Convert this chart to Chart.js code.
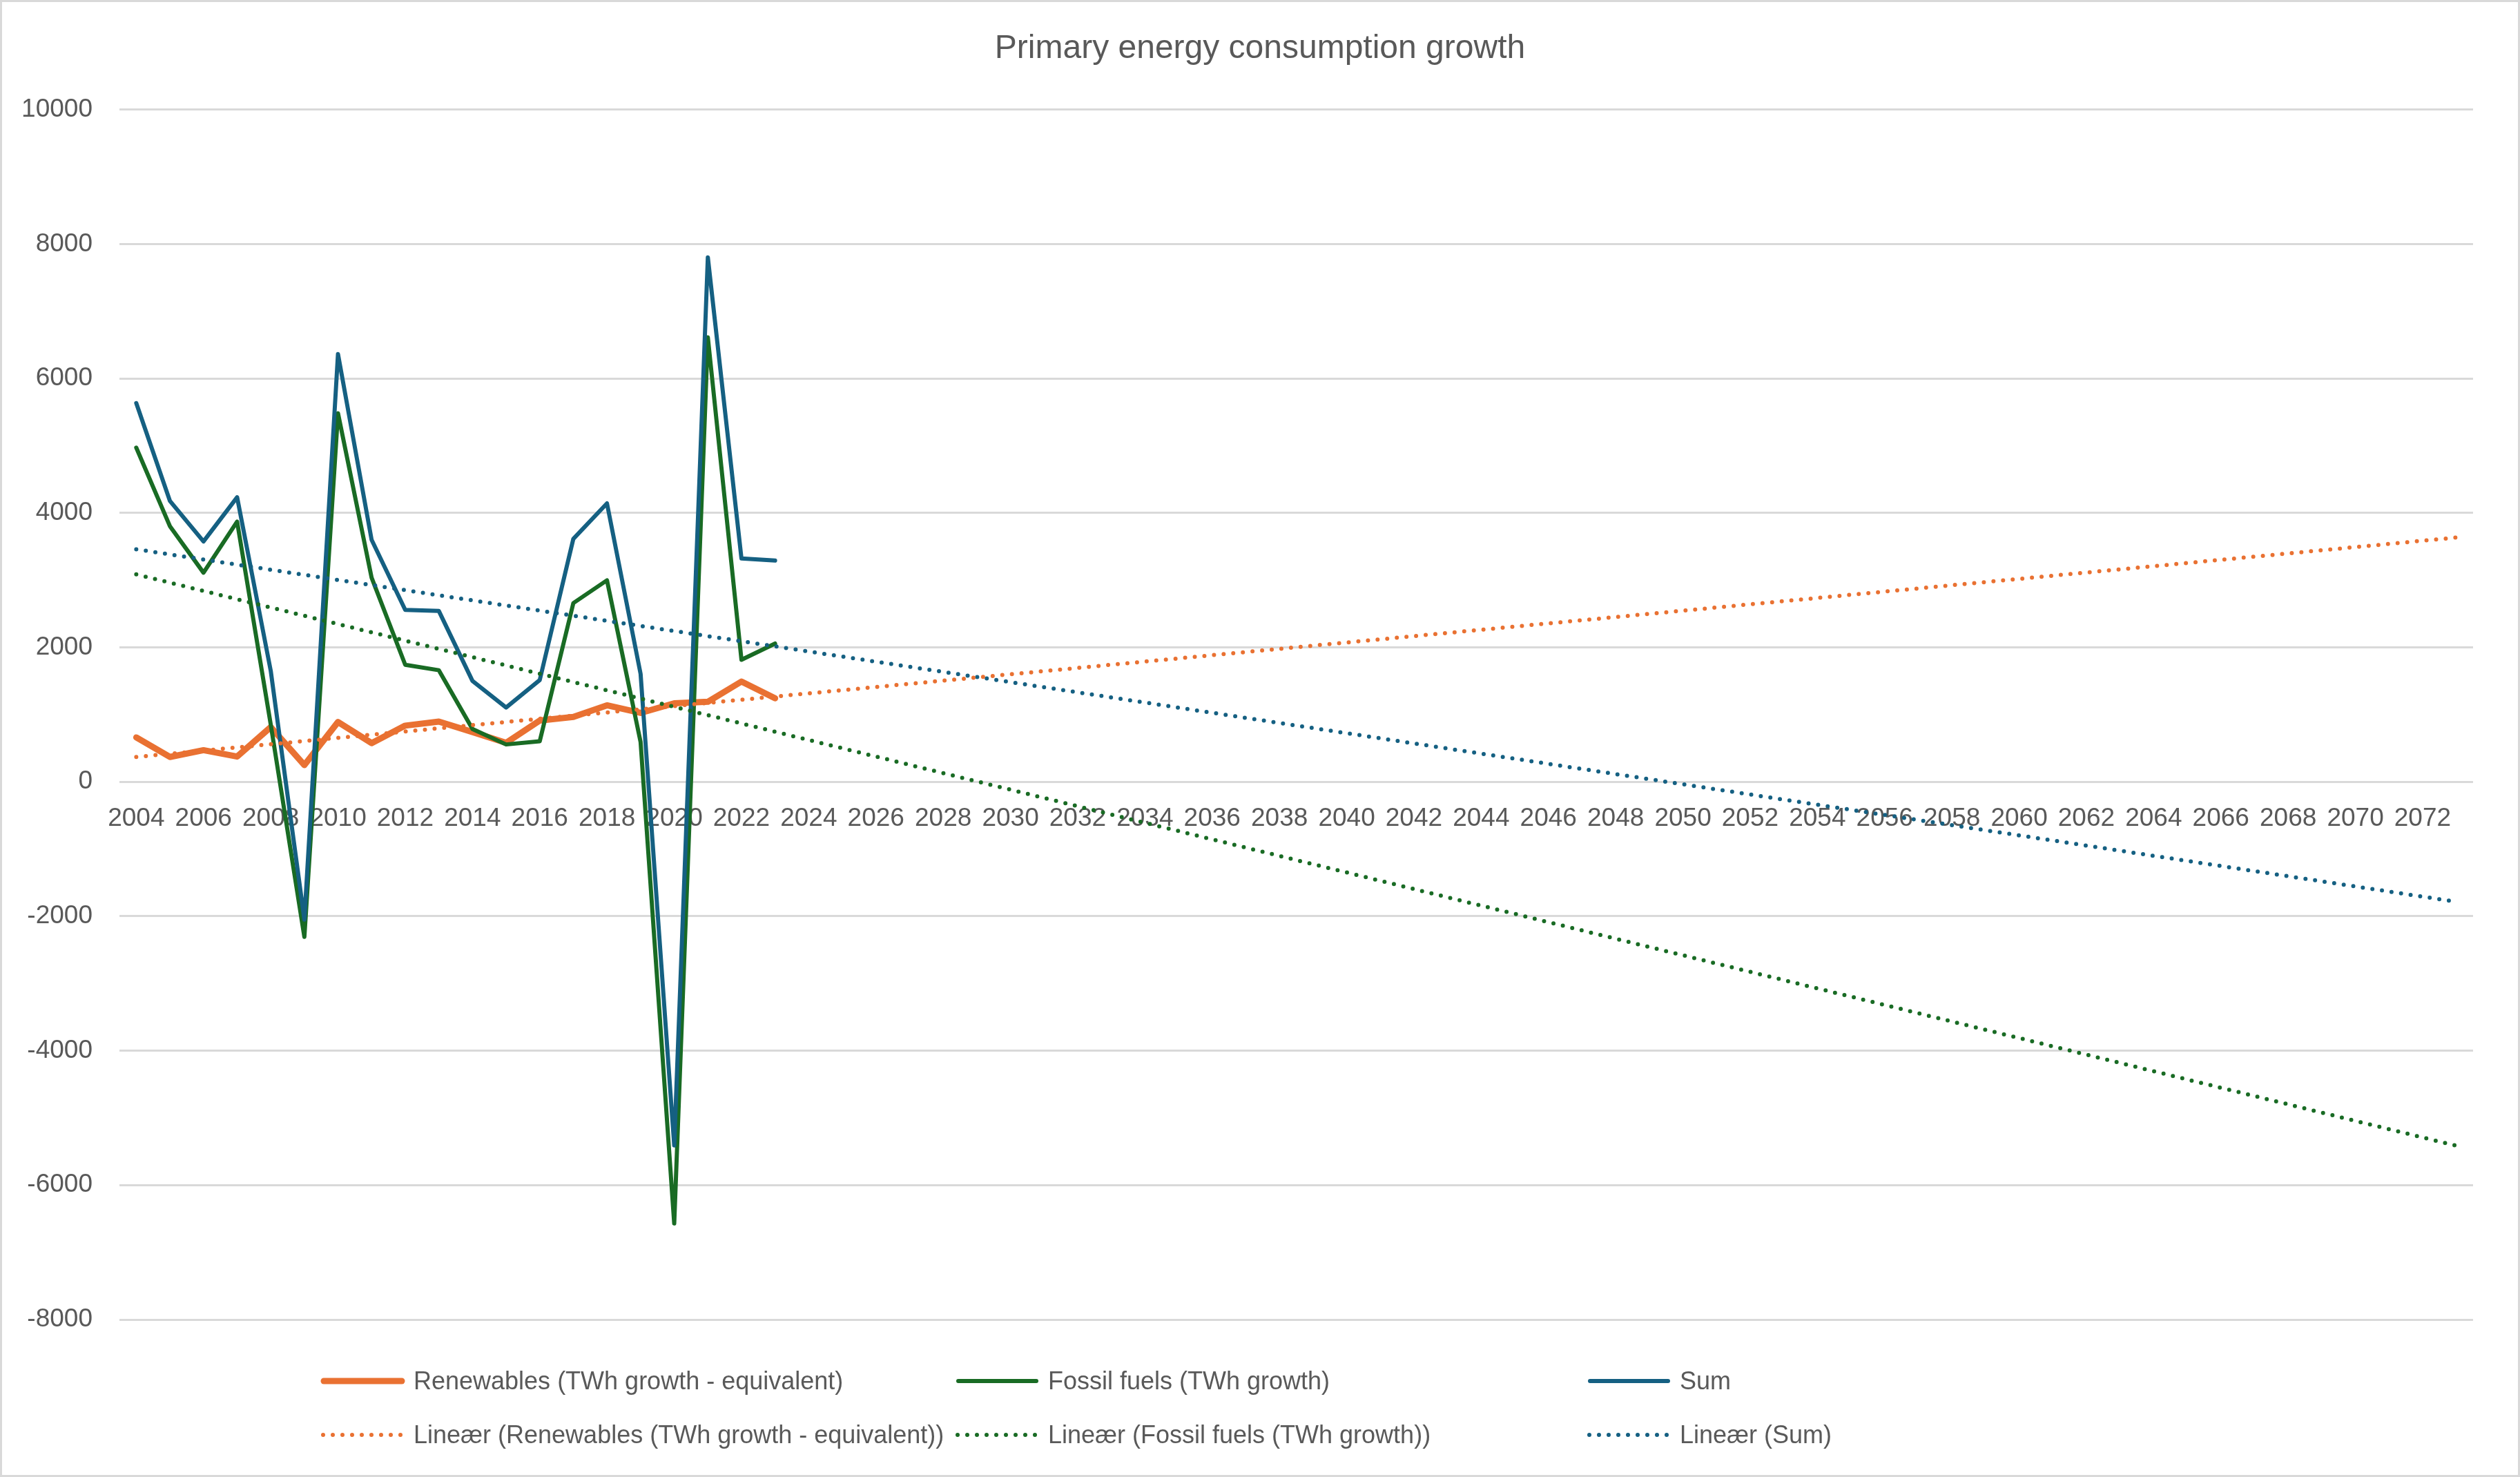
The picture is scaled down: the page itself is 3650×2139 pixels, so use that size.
<!DOCTYPE html>
<html>
<head>
<meta charset="utf-8">
<title>Primary energy consumption growth</title>
<script src="https://cdn.jsdelivr.net/npm/chart.js@4.4.1/dist/chart.umd.min.js"></script>
<style>
    html, body { margin: 0; padding: 0; background: #fff; }
    #contenedor { position: relative; width: 3650px; height: 2139px; overflow: hidden; }
    #grafico { position: absolute; left: 0; top: 0; }
    #marco { position: absolute; left: 0; top: 0; width: 3650px; height: 2139px; box-sizing: border-box; border: 3px solid #d9d9d9; pointer-events: none; }
    .item-leyenda { position: absolute; height: 44px; display: flex; align-items: center; font-family: "Liberation Sans", Arial, sans-serif; font-size: 36px; color: #595959; white-space: nowrap; }
    .item-leyenda svg { margin-right: 12px; }
</style>
</head>
<body>
<div id="contenedor">
    <canvas id="grafico" width="3650" height="2139"></canvas>
    <div id="leyenda"></div>
    <div id="marco"></div>
</div>
<script>
// Categorias del eje X (datos 2004-2023, el resto es la prolongacion de las tendencias)
const anios = [
    '2004', '2005', '2006', '2007', '2008', '2009', '2010', '2011', '2012', '2013',
    '2014', '2015', '2016', '2017', '2018', '2019', '2020', '2021', '2022', '2023',
    '2024', '2025', '2026', '2027', '2028', '2029', '2030', '2031', '2032', '2033',
    '2034', '2035', '2036', '2037', '2038', '2039', '2040', '2041', '2042', '2043',
    '2044', '2045', '2046', '2047', '2048', '2049', '2050', '2051', '2052', '2053',
    '2054', '2055', '2056', '2057', '2058', '2059', '2060', '2061', '2062', '2063',
    '2064', '2065', '2066', '2067', '2068', '2069', '2070', '2071', '2072', '2073'
];

// Series (TWh)
const renovables = [660, 369, 470, 375, 813, 248, 889, 575, 835, 895, 740, 580, 911, 964, 1137, 1024, 1167, 1190, 1491, 1242];
const fosiles = [4970, 3803, 3110, 3870, 851, -2307, 5482, 3035, 1740, 1659, 785, 555, 602, 2658, 2997, 590, -6570, 6611, 1815, 2056];
const suma = [5632, 4179, 3575, 4232, 1650, -2050, 6363, 3599, 2557, 2540, 1500, 1105, 1513, 3614, 4141, 1604, -5410, 7801, 3321, 3290];

// Lineas de tendencia: valor inicial (2004) y final (2073)
const tendenciaAnios = ['2004', '2073'];
const tendenciaRenovables = [369, 3633];
const tendenciaFosiles = [3085, -5414];
const tendenciaSuma = [3458, -1785];

// Eje Y
const ejeYMin = -8000;
const ejeYMax = 10000;
const ejeYPaso = 2000;

const colorNaranja = '#E97132';
const colorVerde = '#196B24';
const colorAzul = '#156082';
const colorTexto = '#595959';
const fuente = '"Liberation Sans", Arial, sans-serif';

function puntosTendencia(valores) {
    return tendenciaAnios.map((a, i) => ({ x: a, y: valores[i] }));
}

const datasets = [
    {
        label: 'Renewables (TWh growth - equivalent)',
        data: renovables,
        borderColor: colorNaranja,
        borderWidth: 9,
        order: 3
    },
    {
        label: 'Fossil fuels (TWh growth)',
        data: fosiles,
        borderColor: colorVerde,
        borderWidth: 6,
        order: 2
    },
    {
        label: 'Sum',
        data: suma,
        borderColor: colorAzul,
        borderWidth: 6,
        order: 1
    },
    {
        label: 'Lineær (Renewables (TWh growth - equivalent))',
        data: puntosTendencia(tendenciaRenovables),
        borderColor: colorNaranja,
        borderWidth: 6,
        borderDash: [0, 14],
        order: 0
    },
    {
        label: 'Lineær (Fossil fuels (TWh growth))',
        data: puntosTendencia(tendenciaFosiles),
        borderColor: colorVerde,
        borderWidth: 6,
        borderDash: [0, 14],
        order: 0
    },
    {
        label: 'Lineær (Sum)',
        data: puntosTendencia(tendenciaSuma),
        borderColor: colorAzul,
        borderWidth: 6,
        borderDash: [0, 14],
        order: 0
    }
];

datasets.forEach(function(ds) {
    ds.backgroundColor = ds.borderColor;
    ds.pointRadius = 0;
    ds.pointHoverRadius = 0;
    ds.tension = 0;
    ds.fill = false;
    ds.borderCapStyle = 'round';
    ds.borderJoinStyle = 'round';
});

// El titulo se centra sobre todo el ancho del lienzo, no sobre el area con padding
const centrarTitulo = {
    id: 'centrarTitulo',
    afterLayout: function(chart) {
        if (chart.titleBlock) {
            chart.titleBlock.left = 0;
            chart.titleBlock.right = chart.width;
            chart.titleBlock.width = chart.width;
        }
    }
};

const ctx = document.getElementById('grafico').getContext('2d');
const grafico = new Chart(ctx, {
    type: 'line',
    data: {
        labels: anios,
        datasets: datasets
    },
    plugins: [centrarTitulo],
    options: {
        responsive: false,
        animation: false,
        layout: {
            padding: { left: 31, right: 68, top: 32, bottom: 228 }
        },
        plugins: {
            legend: { display: false },
            tooltip: { enabled: false },
            title: {
                display: true,
                text: 'Primary energy consumption growth',
                color: colorTexto,
                font: { family: fuente, size: 48, weight: 'normal' },
                padding: { top: 10, bottom: 59 }
            }
        },
        scales: {
            x: {
                type: 'category',
                offset: true,
                position: { y: 0 },
                grid: { display: false, drawTicks: false },
                border: { display: false },
                ticks: {
                    autoSkip: false,
                    maxRotation: 0,
                    minRotation: 0,
                    padding: 31,
                    color: colorTexto,
                    font: { family: fuente, size: 37 },
                    callback: function(valor, indice) {
                        return indice % 2 === 0 ? anios[indice] : '';
                    }
                }
            },
            y: {
                min: ejeYMin,
                max: ejeYMax,
                afterFit: function(escala) {
                    escala.width = 142;
                },
                grid: { color: '#d9d9d9', lineWidth: 3, drawTicks: false },
                border: { display: false },
                ticks: {
                    stepSize: ejeYPaso,
                    padding: 39,
                    color: colorTexto,
                    font: { family: fuente, size: 37 },
                    callback: function(valor) {
                        return String(valor);
                    }
                }
            }
        }
    }
});

// Leyenda en HTML: 2 filas x 3 columnas
const columnasLeyenda = [464, 1383, 2298];
const filasLeyenda = [1978, 2056];
const leyenda = document.getElementById('leyenda');

grafico.data.datasets.forEach(function(ds, i) {
    const item = document.createElement('div');
    item.className = 'item-leyenda';
    item.style.left = columnasLeyenda[i % 3] + 'px';
    item.style.top = filasLeyenda[Math.floor(i / 3)] + 'px';

    const punteado = ds.borderDash && ds.borderDash.length;
    const svg = `<svg width="123" height="14" viewBox="0 0 123 14">
        <line x1="${punteado ? 4 : 5}" y1="7" x2="${punteado ? 120 : 118}" y2="7"
              stroke="${ds.borderColor}" stroke-width="${ds.borderWidth}"
              stroke-linecap="round" ${punteado ? 'stroke-dasharray="0 14"' : ''} />
    </svg>`;
    item.innerHTML = svg + '<span>' + ds.label + '</span>';
    leyenda.appendChild(item);
});
</script>
</body>
</html>
